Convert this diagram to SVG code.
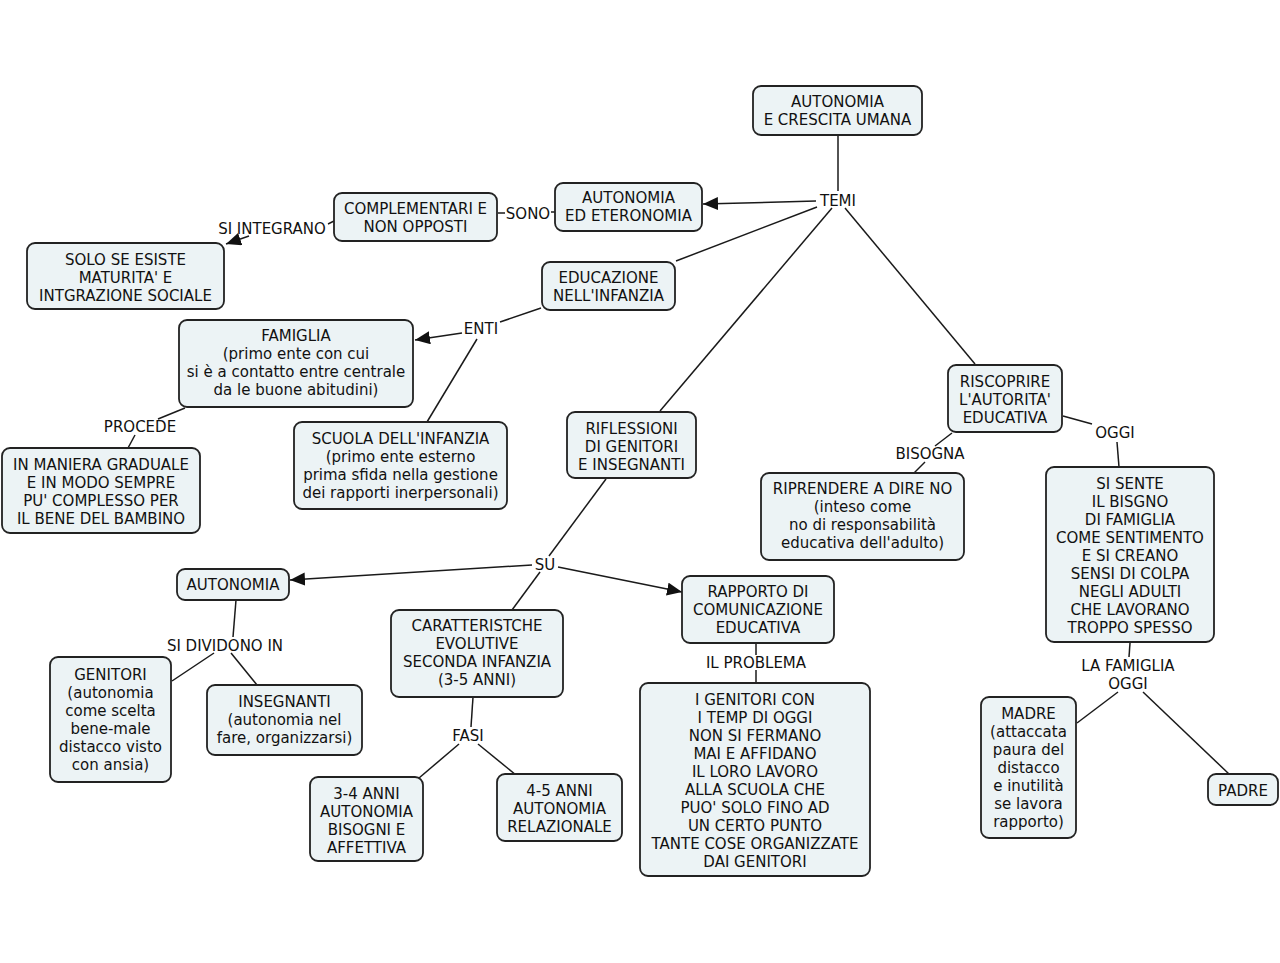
<svg xmlns="http://www.w3.org/2000/svg" width="1280" height="963" viewBox="0 0 1280 963">
<style>
.n rect{fill:#ECF3F5;stroke:#222;stroke-width:1.8}
text{font-family:"DejaVu Sans","Verdana",sans-serif;font-size:15px;fill:#111;text-anchor:middle}
.c line{stroke:#1a1a1a;stroke-width:1.5;fill:none}
</style>
<defs>
<marker id="ah" markerUnits="userSpaceOnUse" markerWidth="16" markerHeight="14" refX="15" refY="6.5" orient="auto">
<path d="M0,0 L15,6.5 L0,13 Z" fill="#111"/>
</marker>
</defs>
<rect width="1280" height="963" fill="#fff"/>
<g class="c" id="connectors">
<line x1="838" y1="135" x2="838" y2="191"/>
<line x1="816" y1="201" x2="703" y2="204" marker-end="url(#ah)"/>
<line x1="817" y1="207" x2="676" y2="261"/>
<line x1="832" y1="208" x2="660" y2="411"/>
<line x1="845" y1="208" x2="975" y2="364"/>
<line x1="551" y1="212" x2="555" y2="212"/>
<line x1="498" y1="213" x2="505" y2="213"/>
<line x1="334" y1="221" x2="328" y2="224"/>
<line x1="249" y1="236" x2="226" y2="244" marker-end="url(#ah)"/>
<line x1="541" y1="308" x2="500" y2="322"/>
<line x1="462" y1="333" x2="415" y2="340" marker-end="url(#ah)"/>
<line x1="477" y1="339" x2="427" y2="422"/>
<line x1="185" y1="408" x2="158" y2="419"/>
<line x1="135" y1="435" x2="128" y2="448"/>
<line x1="606" y1="479" x2="549" y2="556"/>
<line x1="540" y1="572" x2="512" y2="610"/>
<line x1="532" y1="565" x2="290" y2="580" marker-end="url(#ah)"/>
<line x1="558" y1="567" x2="682" y2="592" marker-end="url(#ah)"/>
<line x1="236" y1="600" x2="233" y2="637"/>
<line x1="214" y1="653" x2="172" y2="681"/>
<line x1="231" y1="653" x2="257" y2="685"/>
<line x1="473" y1="697" x2="471" y2="727"/>
<line x1="459" y1="744" x2="419" y2="778"/>
<line x1="478" y1="744" x2="516" y2="775"/>
<line x1="756" y1="643" x2="756" y2="655"/>
<line x1="756" y1="670" x2="756" y2="683"/>
<line x1="952" y1="433" x2="935" y2="446"/>
<line x1="925" y1="462" x2="914" y2="473"/>
<line x1="1063" y1="416" x2="1092" y2="424"/>
<line x1="1117" y1="442" x2="1119" y2="467"/>
<line x1="1130" y1="643" x2="1129" y2="657"/>
<line x1="1118" y1="692" x2="1077" y2="723"/>
<line x1="1143" y1="692" x2="1229" y2="774"/>
</g>
<g id="labels">
<text x="838" y="206">TEMI</text>
<text x="528" y="219">SONO</text>
<text x="272" y="234">SI INTEGRANO</text>
<text x="481" y="334">ENTI</text>
<text x="140" y="432">PROCEDE</text>
<text x="930" y="459">BISOGNA</text>
<text x="1115" y="438">OGGI</text>
<text x="545" y="570">SU</text>
<text x="225" y="651">SI DIVIDONO IN</text>
<text x="468" y="741">FASI</text>
<text x="756" y="668">IL PROBLEMA</text>
<text x="1128" y="671">LA FAMIGLIA<tspan x="1128" dy="18">OGGI</tspan></text>
</g>
<g class="n" id="n1"><rect x="753" y="86" width="169" height="49" rx="8"/><text x="837.5" y="107">AUTONOMIA<tspan x="837.5" dy="18">E CRESCITA UMANA</tspan></text></g>
<g class="n" id="n2"><rect x="555" y="183" width="147" height="48" rx="8"/><text x="628.5" y="203">AUTONOMIA<tspan x="628.5" dy="18">ED ETERONOMIA</tspan></text></g>
<g class="n" id="n3"><rect x="334" y="193" width="163" height="48" rx="8"/><text x="415.5" y="214">COMPLEMENTARI E<tspan x="415.5" dy="18">NON OPPOSTI</tspan></text></g>
<g class="n" id="n4"><rect x="27" y="243" width="197" height="66" rx="8"/><text x="125.5" y="265">SOLO SE ESISTE<tspan x="125.5" dy="18">MATURITA' E</tspan><tspan x="125.5" dy="18">INTGRAZIONE SOCIALE</tspan></text></g>
<g class="n" id="n5"><rect x="542" y="262" width="133" height="48" rx="8"/><text x="608.5" y="283">EDUCAZIONE<tspan x="608.5" dy="18">NELL'INFANZIA</tspan></text></g>
<g class="n" id="n6"><rect x="179" y="320" width="234" height="87" rx="8"/><text x="296" y="341">FAMIGLIA<tspan x="296" dy="18">(primo ente con cui</tspan><tspan x="296" dy="18">si è a contatto entre centrale</tspan><tspan x="296" dy="18">da le buone abitudini)</tspan></text></g>
<g class="n" id="n7"><rect x="294" y="422" width="213" height="87" rx="8"/><text x="400.5" y="444">SCUOLA DELL'INFANZIA<tspan x="400.5" dy="18">(primo ente esterno</tspan><tspan x="400.5" dy="18">prima sfida nella gestione</tspan><tspan x="400.5" dy="18">dei rapporti inerpersonali)</tspan></text></g>
<g class="n" id="n8"><rect x="2" y="448" width="198" height="85" rx="8"/><text x="101" y="470">IN MANIERA GRADUALE<tspan x="101" dy="18">E IN MODO SEMPRE</tspan><tspan x="101" dy="18">PU' COMPLESSO PER</tspan><tspan x="101" dy="18">IL BENE DEL BAMBINO</tspan></text></g>
<g class="n" id="n9"><rect x="567" y="412" width="129" height="66" rx="8"/><text x="631.5" y="434">RIFLESSIONI<tspan x="631.5" dy="18">DI GENITORI</tspan><tspan x="631.5" dy="18">E INSEGNANTI</tspan></text></g>
<g class="n" id="n10"><rect x="948" y="365" width="114" height="67" rx="8"/><text x="1005" y="387">RISCOPRIRE<tspan x="1005" dy="18">L'AUTORITA'</tspan><tspan x="1005" dy="18">EDUCATIVA</tspan></text></g>
<g class="n" id="n11"><rect x="761" y="473" width="203" height="87" rx="8"/><text x="862.5" y="494">RIPRENDERE A DIRE NO<tspan x="862.5" dy="18">(inteso come</tspan><tspan x="862.5" dy="18">no di responsabilità</tspan><tspan x="862.5" dy="18">educativa dell'adulto)</tspan></text></g>
<g class="n" id="n12"><rect x="1046" y="467" width="168" height="175" rx="8"/><text x="1130" y="489">SI SENTE<tspan x="1130" dy="18">IL BISGNO</tspan><tspan x="1130" dy="18">DI FAMIGLIA</tspan><tspan x="1130" dy="18">COME SENTIMENTO</tspan><tspan x="1130" dy="18">E SI CREANO</tspan><tspan x="1130" dy="18">SENSI DI COLPA</tspan><tspan x="1130" dy="18">NEGLI ADULTI</tspan><tspan x="1130" dy="18">CHE LAVORANO</tspan><tspan x="1130" dy="18">TROPPO SPESSO</tspan></text></g>
<g class="n" id="n13"><rect x="177" y="569" width="112" height="31" rx="8"/><text x="233" y="590">AUTONOMIA</text></g>
<g class="n" id="n14"><rect x="391" y="610" width="172" height="87" rx="8"/><text x="477" y="631">CARATTERISTCHE<tspan x="477" dy="18">EVOLUTIVE</tspan><tspan x="477" dy="18">SECONDA INFANZIA</tspan><tspan x="477" dy="18">(3-5 ANNI)</tspan></text></g>
<g class="n" id="n15"><rect x="682" y="576" width="152" height="67" rx="8"/><text x="758" y="597">RAPPORTO DI<tspan x="758" dy="18">COMUNICAZIONE</tspan><tspan x="758" dy="18">EDUCATIVA</tspan></text></g>
<g class="n" id="n16"><rect x="50" y="657" width="121" height="125" rx="8"/><text x="110.5" y="680">GENITORI<tspan x="110.5" dy="18">(autonomia</tspan><tspan x="110.5" dy="18">come scelta</tspan><tspan x="110.5" dy="18">bene-male</tspan><tspan x="110.5" dy="18">distacco visto</tspan><tspan x="110.5" dy="18">con ansia)</tspan></text></g>
<g class="n" id="n17"><rect x="207" y="685" width="155" height="70" rx="8"/><text x="284.5" y="707">INSEGNANTI<tspan x="284.5" dy="18">(autonomia nel</tspan><tspan x="284.5" dy="18">fare, organizzarsi)</tspan></text></g>
<g class="n" id="n18"><rect x="310" y="777" width="113" height="84" rx="8"/><text x="366.5" y="799">3-4 ANNI<tspan x="366.5" dy="18">AUTONOMIA</tspan><tspan x="366.5" dy="18">BISOGNI E</tspan><tspan x="366.5" dy="18">AFFETTIVA</tspan></text></g>
<g class="n" id="n19"><rect x="497" y="774" width="125" height="67" rx="8"/><text x="559.5" y="796">4-5 ANNI<tspan x="559.5" dy="18">AUTONOMIA</tspan><tspan x="559.5" dy="18">RELAZIONALE</tspan></text></g>
<g class="n" id="n20"><rect x="640" y="683" width="230" height="193" rx="8"/><text x="755" y="705">I GENITORI CON<tspan x="755" dy="18">I TEMP DI OGGI</tspan><tspan x="755" dy="18">NON SI FERMANO</tspan><tspan x="755" dy="18">MAI E AFFIDANO</tspan><tspan x="755" dy="18">IL LORO LAVORO</tspan><tspan x="755" dy="18">ALLA SCUOLA CHE</tspan><tspan x="755" dy="18">PUO' SOLO FINO AD</tspan><tspan x="755" dy="18">UN CERTO PUNTO</tspan><tspan x="755" dy="18">TANTE COSE ORGANIZZATE</tspan><tspan x="755" dy="18">DAI GENITORI</tspan></text></g>
<g class="n" id="n21"><rect x="981" y="697" width="95" height="141" rx="8"/><text x="1028.5" y="719">MADRE<tspan x="1028.5" dy="18">(attaccata</tspan><tspan x="1028.5" dy="18">paura del</tspan><tspan x="1028.5" dy="18">distacco</tspan><tspan x="1028.5" dy="18">e inutilità</tspan><tspan x="1028.5" dy="18">se lavora</tspan><tspan x="1028.5" dy="18">rapporto)</tspan></text></g>
<g class="n" id="n22"><rect x="1208" y="774" width="70" height="31" rx="8"/><text x="1243" y="796">PADRE</text></g>
</svg>
